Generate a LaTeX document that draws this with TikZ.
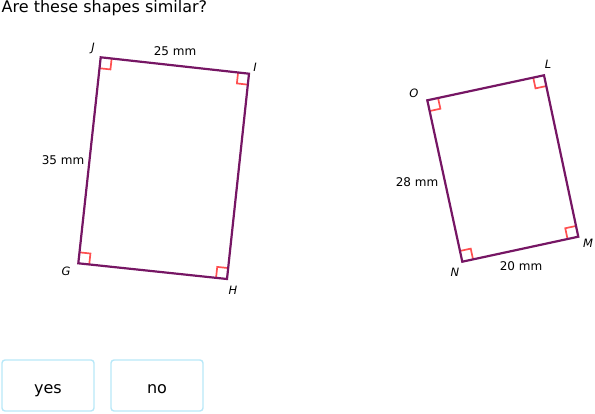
\documentclass[tikz,border=0pt]{standalone}
\usepackage{fontspec}
\setmainfont{DejaVu Sans}
\usetikzlibrary{calc}

\definecolor{sidepurple}{RGB}{118,22,100}
\definecolor{markred}{RGB}{255,80,80}
\definecolor{btnblue}{RGB}{184,232,248}

% right angle mark at vertex #1 between sides to #2 and #3
\newcommand{\cornermark}[3]{%
  \coordinate (ra) at ($(#1)!11pt!(#2)$);
  \coordinate (rb) at ($(#1)!11pt!(#3)$);
  \draw[rmark] (ra) -- ($(ra)+(rb)-(#1)$) -- (rb);
}

\begin{document}
\begin{tikzpicture}[x=1pt, y=-1pt]
            \tikzstyle{side}=[draw=sidepurple, line width=2.2pt, line join=miter]
            \tikzstyle{rmark}=[draw=markred, line width=1.7pt]
            \tikzstyle{vlabel}=[font=\fontsize{11.5}{13}\itshape\selectfont, inner sep=0pt]
            \tikzstyle{mlabel}=[font=\fontsize{12}{14}\selectfont, inner sep=0pt]
            \tikzstyle{button}=[draw=btnblue, line width=1.4pt, rounded corners=3pt,
                                minimum width=92pt, minimum height=51pt,
                                text height=15.5pt, text depth=0pt,
                                font=\fontsize{16}{19}\selectfont]

            \useasboundingbox (0,0) rectangle (595,414);

            \node[anchor=west, inner sep=0pt, font=\fontsize{16}{19}\selectfont] (title) at (1.5,8) {Are these shapes similar?};

            % first shape
            \coordinate (J) at (100.7,57.3);
            \coordinate (I) at (249,73.7);
            \coordinate (H) at (227,279);
            \coordinate (G) at (78.3,263.3);
            \cornermark{J}{I}{G}
            \cornermark{I}{H}{J}
            \cornermark{H}{G}{I}
            \cornermark{G}{J}{H}
            \draw[side] (J) -- (I) -- (H) -- (G) -- cycle;

            \node[vlabel] (lJ) at (93,48) {J};
            \node[vlabel] (lI) at (255,67) {I};
            \node[vlabel] (lH) at (233,290) {H};
            \node[vlabel] (lG) at (66,271) {G};
            \node[mlabel] (JI) at (175,51) {25 mm};
            \node[mlabel] (JG) at (63,160) {35 mm};

            % second shape
            \coordinate (O) at (427.3,100.3);
            \coordinate (L) at (544,75.3);
            \coordinate (M) at (578.3,236.7);
            \coordinate (N) at (462.3,261.7);
            \cornermark{O}{L}{N}
            \cornermark{L}{M}{O}
            \cornermark{M}{N}{L}
            \cornermark{N}{O}{M}
            \draw[side] (O) -- (L) -- (M) -- (N) -- cycle;

            \node[vlabel] (lO) at (414,93) {O};
            \node[vlabel] (lL) at (548,64) {L};
            \node[vlabel] (lM) at (588,243) {M};
            \node[vlabel] (lN) at (455,272) {N};
            \node[mlabel] (ON) at (417,182) {28 mm};
            \node[mlabel] (NM) at (521,266) {20 mm};

            % answers
            \node[button] (yes) at (48,385.5) {yes};
            \node[button] (no) at (157,385.5) {no};

          \end{tikzpicture}
\end{document}
